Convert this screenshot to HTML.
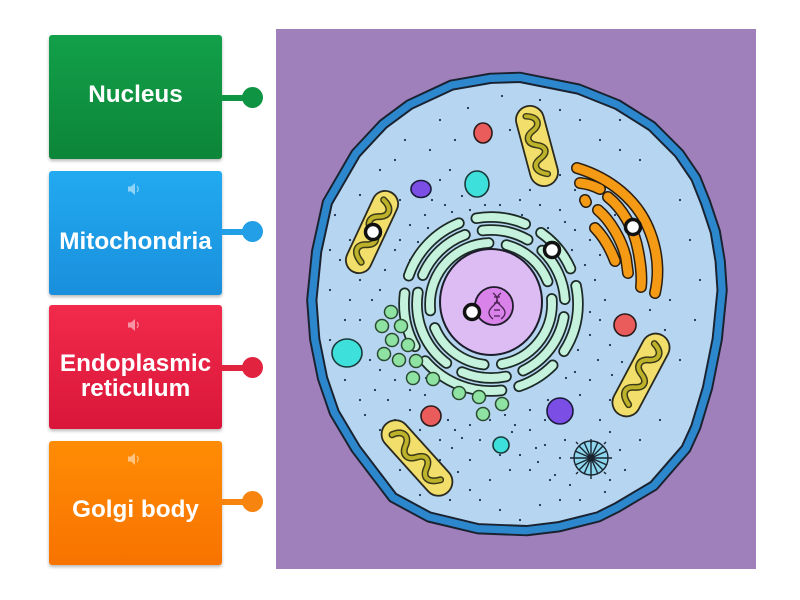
<!DOCTYPE html>
<html><head><meta charset="utf-8"><style>
html,body{margin:0;padding:0;background:#fff;width:800px;height:600px;overflow:hidden;}
.tile{position:absolute;left:49px;width:173px;height:124px;border-radius:3px;box-shadow:0 2px 3px rgba(0,0,0,0.28);color:#fff;font-family:"Liberation Sans",sans-serif;font-weight:bold;font-size:24.3px;text-align:center;}
.t{position:absolute;left:0;width:100%;line-height:26px;}
.spk{position:absolute;left:77px;width:17px;height:14px;}
.con{position:absolute;left:221px;height:6px;width:26px;}
.dot{position:absolute;left:242px;width:21px;height:21px;border-radius:50%;}
svg.main{position:absolute;left:0;top:0;}
</style></head><body>

<div class="tile" style="top:35px;background:linear-gradient(#12a04a,#0c8538);"><div class="t" style="top:47px;">Nucleus</div></div>
<div class="con" style="top:95px;background:#0f9444;"></div><div class="dot" style="top:87px;background:#0f9444;"></div>

<div class="tile" style="top:171px;background:linear-gradient(#22aaf0,#1a8fdc);">
<svg class="spk" style="top:11px" viewBox="0 0 17 14"><path d="M2 4.5h3l4-3.5v12l-4-3.5h-3z" fill="#fff" opacity="0.5"/><path d="M11 4q2.5 3 0 6" stroke="#fff" stroke-width="1.2" fill="none" opacity="0.5"/></svg>
<div class="t" style="top:58px;">Mitochondria</div></div>
<div class="con" style="top:229px;background:#229fe6;"></div><div class="dot" style="top:221px;background:#229fe6;"></div>

<div class="tile" style="top:305px;background:linear-gradient(#f22a4b,#d9163a);">
<svg class="spk" style="top:13px" viewBox="0 0 17 14"><path d="M2 4.5h3l4-3.5v12l-4-3.5h-3z" fill="#fff" opacity="0.5"/><path d="M11 4q2.5 3 0 6" stroke="#fff" stroke-width="1.2" fill="none" opacity="0.5"/></svg>
<div class="t" style="top:46px;">Endoplasmic</div><div class="t" style="top:71px;">reticulum</div></div>
<div class="con" style="top:365px;background:#e2233f;"></div><div class="dot" style="top:357px;background:#e2233f;"></div>

<div class="tile" style="top:441px;background:linear-gradient(#ff8c05,#f87300);">
<svg class="spk" style="top:11px" viewBox="0 0 17 14"><path d="M2 4.5h3l4-3.5v12l-4-3.5h-3z" fill="#fff" opacity="0.5"/><path d="M11 4q2.5 3 0 6" stroke="#fff" stroke-width="1.2" fill="none" opacity="0.5"/></svg>
<div class="t" style="top:56px;">Golgi body</div></div>
<div class="con" style="top:499px;background:#f7840f;"></div><div class="dot" style="top:491px;background:#f7840f;"></div>

<svg class="main" width="800" height="600" viewBox="0 0 800 600">
<defs>
<path id="wave" d="M-3 -34 C9 -30 9 -21 0 -17 S-9 -5 0 -1 S9 10 0 14 S-9 26 3 32"/>
</defs>
<rect x="276" y="29" width="480" height="540" fill="#9f80bb"/>
<g transform="translate(515 304) scale(0.977) translate(-515 -304)">
<path d="M520 72 L580 84 L620 100 L655 122 L683 150 L700 175 L710 200 L720 230 L725 260 L727 290 L722 340 L712 390 L700 430 L690 452 L657 490 L620 512 L600 522 L560 532 L527 536 L477 534 L427 522 L390 502 L352 452 L330 415 L318 380 L310 340 L307 300 L312 250 L323 200 L352 150 L380 120 L407 100 L450 80 L490 73 Z" fill="#b5d5f0" stroke="#1a2230" stroke-width="11.5" stroke-linejoin="round"/>
<path d="M520 72 L580 84 L620 100 L655 122 L683 150 L700 175 L710 200 L720 230 L725 260 L727 290 L722 340 L712 390 L700 430 L690 452 L657 490 L620 512 L600 522 L560 532 L527 536 L477 534 L427 522 L390 502 L352 452 L330 415 L318 380 L310 340 L307 300 L312 250 L323 200 L352 150 L380 120 L407 100 L450 80 L490 73 Z" fill="none" stroke="#2c87cd" stroke-width="7.5" stroke-linejoin="round"/>
</g>
<path d="M440 120h0M468 108h0M502 96h0M455 140h0M430 150h0M510 130h0M520 200h0M530 190h0M500 205h0M470 210h0M445 205h0M425 215h0M410 225h0M455 220h0M485 205h0M540 205h0M560 210h0M575 230h0M590 240h0M600 255h0M585 265h0M595 280h0M605 300h0M600 320h0M590 335h0M610 345h0M598 360h0M590 380h0M580 395h0M570 410h0M545 420h0M530 430h0M515 425h0M470 425h0M455 430h0M440 440h0M425 395h0M410 390h0M395 380h0M380 370h0M370 360h0M372 300h0M380 290h0M385 270h0M395 250h0M400 240h0M410 260h0M420 270h0M360 280h0M350 300h0M345 320h0M360 320h0M340 260h0M330 290h0M350 240h0M335 215h0M330 250h0M400 200h0M415 185h0M440 180h0M450 170h0M395 160h0M405 140h0M380 170h0M360 195h0M620 150h0M640 160h0M600 140h0M580 120h0M560 110h0M540 100h0M620 120h0M680 200h0M690 240h0M700 280h0M695 320h0M680 360h0M670 300h0M665 330h0M650 310h0M640 350h0M660 420h0M640 440h0M620 450h0M610 480h0M580 500h0M550 480h0M530 470h0M510 470h0M490 480h0M470 490h0M450 500h0M420 495h0M400 470h0M380 430h0M360 400h0M345 380h0M330 340h0M470 460h0M480 440h0M520 455h0M545 445h0M565 440h0M600 420h0M610 400h0M555 475h0M540 505h0M500 510h0M520 520h0M600 230h0M615 215h0M575 190h0M560 175h0M550 160h0M410 410h0M420 430h0M440 460h0M395 420h0M630 390h0M650 380h0M432 200h0M462 196h0M418 242h0M565 222h0M572 250h0M580 285h0M578 350h0M566 378h0M548 400h0M505 415h0M490 420h0M438 412h0M426 378h0M452 448h0M498 438h0M536 448h0M560 458h0M583 445h0M610 432h0M625 470h0M598 465h0M428 228h0M437 236h0M452 212h0M522 215h0M548 228h0M582 300h0M590 312h0M575 372h0M530 410h0M512 432h0M462 438h0M448 420h0M418 288h0M408 300h0M375 390h0M365 415h0M388 400h0M612 375h0M622 362h0M578 462h0M570 485h0M605 492h0M560 500h0M480 500h0M458 472h0M500 455h0M538 462h0" stroke="#1e3350" stroke-width="2.2" stroke-linecap="round" fill="none"/>

<!-- ER -->
<g fill="none" stroke-linecap="round">
<circle cx="491" cy="304" r="87" stroke="#1c2a26" stroke-width="11.5" stroke-dasharray="70 18 40 18 85 18 55 18 75 18 50 18 47 18" stroke-dashoffset="20"/>
<circle cx="491" cy="304" r="87" stroke="#c4f2dc" stroke-width="8" stroke-dasharray="70 18 40 18 85 18 55 18 75 18 50 18 47 18" stroke-dashoffset="20"/>
<circle cx="491" cy="304" r="74" stroke="#1c2a26" stroke-width="11.5" stroke-dasharray="55 18 70 18 45 18 80 18 60 18 47 18" stroke-dashoffset="60"/>
<circle cx="491" cy="304" r="74" stroke="#c4f2dc" stroke-width="8" stroke-dasharray="55 18 70 18 45 18 80 18 60 18 47 18" stroke-dashoffset="60"/>
<circle cx="491" cy="304" r="61" stroke="#1c2a26" stroke-width="11.5" stroke-dasharray="90 18 64 18 100 18 57 18" stroke-dashoffset="5"/>
<circle cx="491" cy="304" r="61" stroke="#c4f2dc" stroke-width="8" stroke-dasharray="90 18 64 18 100 18 57 18" stroke-dashoffset="5"/>
</g>
<!-- nucleus -->
<ellipse cx="491" cy="302" rx="51" ry="53" fill="#dcbcf3" stroke="#1c1c2a" stroke-width="2"/>
<circle cx="494" cy="306" r="19" fill="#d983ea" stroke="#1c1c2a" stroke-width="1.8"/>
<path d="M493 293 q8 6 0 13 q-8 7 0 13 M501 293 q-8 6 0 13 q8 7 0 13 M494 297h6M494 303h6M494 310h6M494 316h6" stroke="#4a2050" stroke-width="1.3" fill="none"/>

<!-- vesicles -->
<g fill="#8fe3a2" stroke="#2a4a30" stroke-width="1.5">
<circle cx="391" cy="312" r="6.5"/><circle cx="382" cy="326" r="6.5"/><circle cx="401" cy="326" r="6.5"/><circle cx="392" cy="340" r="6.5"/><circle cx="408" cy="345" r="6.5"/><circle cx="384" cy="354" r="6.5"/><circle cx="399" cy="360" r="6.5"/><circle cx="416" cy="361" r="6.5"/><circle cx="413" cy="378" r="6.5"/><circle cx="433" cy="379" r="6.5"/><circle cx="459" cy="393" r="6.5"/><circle cx="479" cy="397" r="6.5"/><circle cx="502" cy="404" r="6.5"/><circle cx="483" cy="414" r="6.5"/>
</g>
<!-- red -->
<g fill="#ea5b5b" stroke="#2a1a1a" stroke-width="1.6">
<ellipse cx="483" cy="133" rx="9" ry="10"/><circle cx="431" cy="416" r="10"/><circle cx="625" cy="325" r="11"/>
</g>
<!-- cyan -->
<g fill="#3ee0dc" stroke="#1a3a3a" stroke-width="1.6">
<ellipse cx="477" cy="184" rx="12" ry="13"/><ellipse cx="347" cy="353" rx="15" ry="14"/><circle cx="501" cy="445" r="8"/>
</g>
<!-- purple -->
<g fill="#7b4fe6" stroke="#1a1a3a" stroke-width="1.6">
<ellipse cx="421" cy="189" rx="10" ry="8.5"/><circle cx="560" cy="411" r="13"/>
</g>
<!-- centriole -->
<g stroke="#1a2430" stroke-width="1.4" fill="none">
<circle cx="591" cy="458" r="17" fill="#8dd6ee"/>
<path d="M591 441v34M574 458h34M579 446l24 24M603 446l-24 24M584 442l14 32M598 442l-14 32M575 451l32 14M575 465l32 -14"/>
<path d="M591 439v4M608 458h4M570 458h4M591 475v4M604 444l2-2M578 472l-2 2M604 472l2 2M578 444l-2-2"/>
</g>
<!-- mitochondria -->
<g transform="translate(372 232) rotate(25)">
<rect x="-13" y="-44" width="26" height="88" rx="13" fill="#f2de6b" stroke="#2a2a20" stroke-width="1.8"/>
<use href="#wave" fill="none" stroke="#3a3a18" stroke-width="7" stroke-linecap="round"/>
<use href="#wave" fill="none" stroke="#bdb22a" stroke-width="4" stroke-linecap="round"/>
</g>
<g transform="translate(537 146) rotate(-15)">
<rect x="-14" y="-41" width="28" height="82" rx="14" fill="#f2de6b" stroke="#2a2a20" stroke-width="1.8"/>
<use href="#wave" fill="none" stroke="#3a3a18" stroke-width="7" stroke-linecap="round" transform="scale(1 0.93)"/>
<use href="#wave" fill="none" stroke="#bdb22a" stroke-width="4" stroke-linecap="round" transform="scale(1 0.93)"/>
</g>
<g transform="translate(641 375) rotate(28)">
<rect x="-14" y="-45" width="28" height="90" rx="14" fill="#f2de6b" stroke="#2a2a20" stroke-width="1.8"/>
<use href="#wave" fill="none" stroke="#3a3a18" stroke-width="7" stroke-linecap="round"/>
<use href="#wave" fill="none" stroke="#bdb22a" stroke-width="4" stroke-linecap="round"/>
</g>
<g transform="translate(417 458) rotate(-42)">
<rect x="-14" y="-46" width="28" height="92" rx="14" fill="#f2de6b" stroke="#2a2a20" stroke-width="1.8"/>
<use href="#wave" fill="none" stroke="#3a3a18" stroke-width="7" stroke-linecap="round"/>
<use href="#wave" fill="none" stroke="#bdb22a" stroke-width="4" stroke-linecap="round"/>
</g>
<!-- golgi -->
<g fill="none" stroke-linecap="round">
<g stroke="#2a1e10" stroke-width="12">
<path d="M577 168 C610 178 638 200 650 232 C660 258 658 280 655 293"/>
<path d="M580 183 Q590 184 600 189"/>
<path d="M585 200 L586 202"/>
<path d="M608 197 C622 208 634 228 638 250 C641 265 642 278 641 287"/>
<path d="M598 210 C610 220 622 240 626 258 L628 273"/>
<path d="M595 228 C603 236 610 248 615 261"/>
</g>
<g stroke="#f59a14" stroke-width="9">
<path d="M577 168 C610 178 638 200 650 232 C660 258 658 280 655 293"/>
<path d="M580 183 Q590 184 600 189"/>
<path d="M585 200 L586 202"/>
<path d="M608 197 C622 208 634 228 638 250 C641 265 642 278 641 287"/>
<path d="M598 210 C610 220 622 240 626 258 L628 273"/>
<path d="M595 228 C603 236 610 248 615 261"/>
</g>
</g>
<!-- markers -->
<g fill="#fff" stroke="#111" stroke-width="3.5">
<circle cx="373" cy="232" r="7.5"/><circle cx="552" cy="250" r="7.5"/><circle cx="633" cy="227" r="7.5"/><circle cx="472" cy="312" r="7.5"/>
</g>
</svg>
</body></html>
